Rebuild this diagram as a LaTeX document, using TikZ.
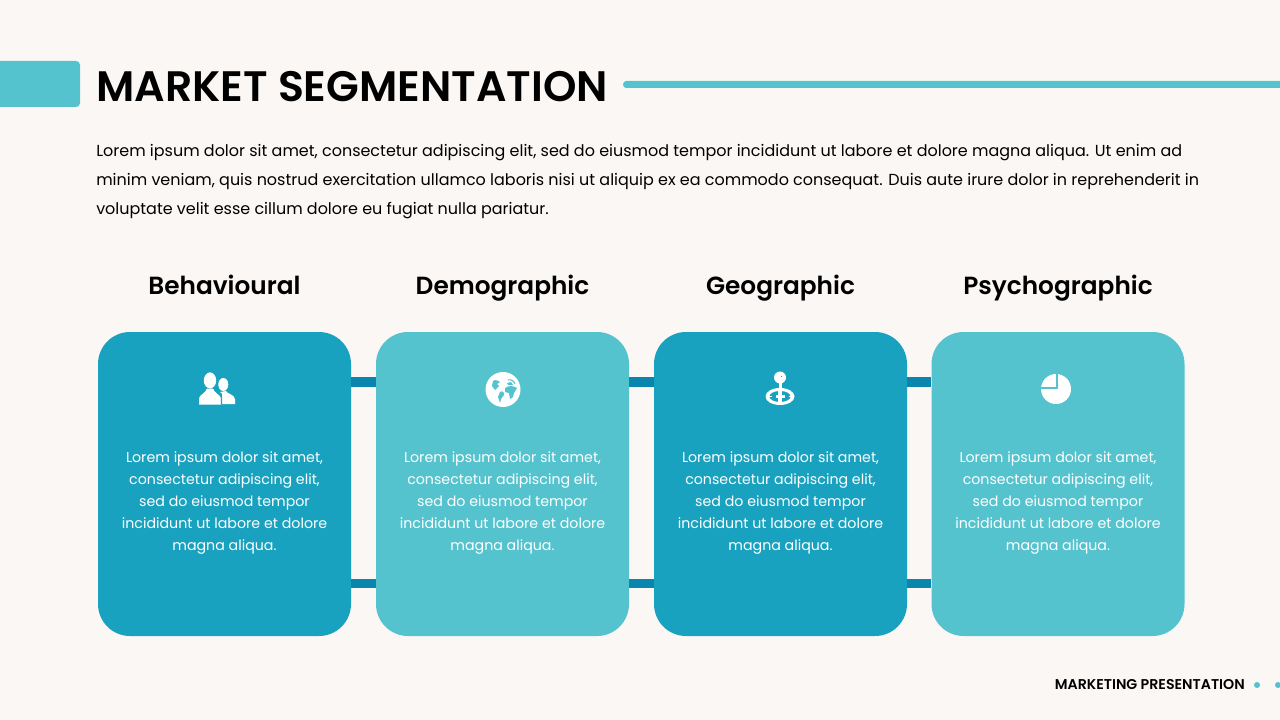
\documentclass[tikz,border=0pt]{standalone}
\usepackage{fontspec}
\setmainfont{Poppins}
\newfontfamily\semifont{Poppins SemiBold}
\usetikzlibrary{positioning}
\definecolor{pagebg}{HTML}{FAF7F5}
\definecolor{darkteal}{HTML}{18A2BF}
\definecolor{lightteal}{HTML}{54C3CE}
\definecolor{linkteal}{HTML}{0A85AD}
\tikzset{
  card/.style={rounded corners=24pt, minimum width=189.75pt, minimum height=228pt, inner sep=0pt},
  cardtext/.style={text=white, align=center, font=\fontsize{10.65}{16.5}\selectfont},
  heading/.style={anchor=base, font=\semifont\fontsize{18.6}{24}\selectfont, text=black},
  linkbar/.style={linkteal, line width=7pt},
  icon/.style={fill=white, draw=none}
}
\begin{document}
\begin{tikzpicture}[x=0.75pt, y=-0.75pt]
        \useasboundingbox (0, 0) rectangle (1280, 720);
        \fill[pagebg] (0, 0) rectangle (1280, 720);

        % header
        \fill[lightteal, rounded corners=3pt] (-10, 61) rectangle (80, 107);
        \fill[lightteal, rounded corners=2.5pt] (623, 81) rectangle (1290, 88);
        \node[anchor=west, inner sep=0pt, font=\semifont\fontsize{31.95}{38}\selectfont] (title) at (96, 87) {MARKET SEGMENTATION};
        \node[anchor=north west, inner sep=0pt, align=left, font=\fontsize{11.98}{21.75}\selectfont] (intro) at (96, 144) {Lorem ipsum dolor sit amet, consectetur adipiscing elit, sed do eiusmod tempor incididunt ut labore et dolore magna aliqua. Ut enim ad\\minim veniam, quis nostrud exercitation ullamco laboris nisi ut aliquip ex ea commodo consequat. Duis aute irure dolor in reprehenderit in\\voluptate velit esse cillum dolore eu fugiat nulla pariatur.};

        % cards
        \foreach \name/\x/\col/\label in {beh/224.5/darkteal/Behavioural, dem/502.5/lightteal/Demographic, geo/780.5/darkteal/Geographic, psy/1058/lightteal/Psychographic} {
          \node[heading] (\name head) at (\x, 294) {\label};
          \node[card, fill=\col] (\name) at (\x, 484) {};
          \node[cardtext] (\name text) at (\x, 503) {Lorem ipsum dolor sit amet,\\consectetur adipiscing elit,\\sed do eiusmod tempor\\incididunt ut labore et dolore\\magna aliqua.};
        }

        % links between the cards
        \foreach \a/\b in {beh/dem, dem/geo, geo/psy} {
          \draw[linkbar] ([yshift=76.5pt]\a.east) -- ([yshift=76.5pt]\b.west);
          \draw[linkbar] ([yshift=-74.5pt]\a.east) -- ([yshift=-74.5pt]\b.west);
        }

        % people icon
        \fill[icon] (223.3, 384.5) ellipse (5 and 6.5);
        \fill[icon] (222, 404) -- (222, 394) -- (220, 392) -- (226, 391) .. controls (227, 394) and (234, 394) .. (235, 399) -- (235, 404) -- cycle;
        \fill[icon] (210, 380.5) ellipse (6.2 and 8);
        \fill[icon, draw=darkteal, line width=0.8pt] (198.5, 404.5) -- (198.5, 398) .. controls (199, 394) and (205, 393) .. (206.5, 388) -- (213.5, 388) .. controls (215, 393) and (221, 394) .. (221.5, 398) -- (221.5, 404.5);
        \fill[icon] (210, 380.5) ellipse (5 and 8);

        % globe icon
        \fill[icon] (503, 389.5) circle (17.5);
        \fill[lightteal] (493, 381) .. controls (495, 379) and (499, 381) .. (500, 382) -- (497, 384) -- (499, 386) -- (495, 390) -- (492, 386) -- cycle;
        \fill[lightteal] (500, 392) .. controls (502, 390) and (505, 393) .. (504, 395) -- (501, 399) -- (500, 403) -- (498, 397) -- cycle;
        \fill[lightteal] (505, 388) .. controls (509, 385) and (514, 386) .. (517, 388) -- (514, 393) -- (513, 397) -- (510, 399) -- (509, 393) -- (505, 392) -- cycle;
        \draw[lightteal, line width=0.8pt] (508, 380) .. controls (511, 379) and (514, 381) .. (515, 384);
        \fill[lightteal] (507, 383) -- (511, 382) -- (513, 385) -- (508, 385) -- cycle;

        % joystick icon
        \fill[icon] (780, 377.5) circle (6);
        \fill[darkteal] (781.5, 376.5) circle (0.7);
        \fill[icon] (778.5, 380) rectangle (781.5, 390);
        \fill[icon] (780, 396.5) ellipse (14.5 and 8.5);
        \fill[darkteal] (780, 396.5) ellipse (10.5 and 5.5);
        \fill[icon] (775.5, 395.3) rectangle (784.5, 397.7);
        \fill[icon] (778, 390) rectangle (782, 403);
        \fill[icon] (767, 395.8) rectangle (771.5, 397.2);
        \fill[icon] (788.5, 395.8) rectangle (793, 397.2);

        % pie icon
        \fill[icon] (1056, 389) circle (15);
        \draw[lightteal, line width=1.5pt] (1056.5, 372) -- (1056.5, 387.5) -- (1040, 387.5);

        % footer
        \node[anchor=east, inner sep=0pt, font=\semifont\fontsize{10.65}{13}\selectfont] (footer) at (1245, 685) {MARKETING PRESENTATION};
        \fill[lightteal] (1257, 685) circle (3);
        \fill[lightteal] (1278, 685) circle (3);
      \end{tikzpicture}
\end{document}
